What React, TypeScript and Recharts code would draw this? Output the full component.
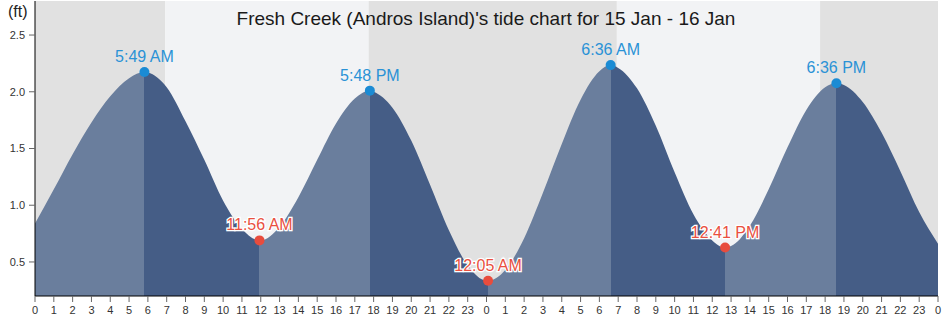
import React from 'react';
import { ComposedChart, Area, Scatter, XAxis, YAxis, ReferenceArea } from 'recharts';

const hourTimes = [
  0, 1, 2, 3, 4, 5, 6, 7, 8, 9, 10, 11, 12, 13, 14, 15, 16, 17, 18, 19, 20, 21, 22, 23,
  24, 25, 26, 27, 28, 29, 30, 31, 32, 33, 34, 35, 36, 37, 38, 39, 40, 41, 42, 43, 44, 45, 46, 47, 48,
];
const hourlyLevels = [
  0.84, 1.14, 1.45, 1.73, 1.96, 2.12, 2.17, 2.04, 1.74, 1.4, 1.04, 0.79, 0.69, 0.81, 1.07, 1.4,
  1.72, 1.94, 2.0, 1.86, 1.57, 1.18, 0.78, 0.47, 0.335, 0.43, 0.71, 1.11, 1.54, 1.93, 2.18, 2.21,
  2.03, 1.7, 1.29, 0.92, 0.69, 0.64, 0.82, 1.14, 1.51, 1.84, 2.04, 2.06, 1.91, 1.64, 1.3, 0.94, 0.66,
];

const extremeTimes = [5.817, 11.933, 17.8, 24.083, 30.6, 36.683, 42.6];
const extremeLevels = [2.175, 0.69, 2.01, 0.335, 2.235, 0.627, 2.075];
const extremeLabels = ['5:49 AM', '11:56 AM', '5:48 PM', '12:05 AM', '6:36 AM', '12:41 PM', '6:36 PM'];
const extremeKinds = ['high', 'low', 'high', 'low', 'high', 'low', 'high'];

const dayStarts = [6.92, 30.93];
const dayEnds = [17.72, 41.73];

const xTicks = hourTimes;
const yTicks = [0.5, 1.0, 1.5, 2.0, 2.5];
const xDomain = [0, 48];
const yDomain = [0.2, 2.8];

const titleText = "Fresh Creek (Andros Island)'s tide chart for 15 Jan - 16 Jan";
const unitText = '(ft)';

const RISING = '#6a7e9d';
const FALLING = '#455d86';
const NIGHT = '#e1e1e1';
const DAY = '#f2f3f5';
const HIGH_DOT = '#1b8bd4';
const HIGH_TEXT = '#2a92d6';
const LOW_DOT = '#e84c3d';
const LOW_TEXT = '#e9503f';
const FONT = '"Liberation Sans", Arial, Helvetica, sans-serif';

const tideRows = [
  ...hourTimes.map((t, i) => ({ time: t, level: hourlyLevels[i] })),
  ...extremeTimes.map((t, i) => ({ time: t, level: extremeLevels[i] })),
].sort((a, b) => a.time - b.time);

const extremeRows = extremeTimes.map((t, i) => ({
  time: t,
  level: extremeLevels[i],
  label: extremeLabels[i],
  kind: extremeKinds[i],
}));

const dayRanges = dayStarts.map((s, i) => [s, dayEnds[i]]);
const nightRanges = [
  [xDomain[0], dayStarts[0]],
  [dayEnds[0], dayStarts[1]],
  [dayEnds[1], xDomain[1]],
];

// gradient stops: rising (light) before a high, falling (dark) before a low
const span = xDomain[1] - xDomain[0];
const gradientStops: { offset: number; color: string }[] = [];
{
  let prev = 0;
  extremeTimes.forEach((t, i) => {
    const color = extremeKinds[i] === 'high' ? RISING : FALLING;
    gradientStops.push({ offset: prev, color });
    gradientStops.push({ offset: (t - xDomain[0]) / span, color });
    prev = (t - xDomain[0]) / span;
  });
  const lastColor = extremeKinds[extremeKinds.length - 1] === 'high' ? FALLING : RISING;
  gradientStops.push({ offset: prev, color: lastColor });
  gradientStops.push({ offset: 1, color: lastColor });
}

const renderExtreme = (props: any) => {
  const { cx, cy, payload } = props;
  if (cx == null || cy == null) return null;
  const isHigh = payload.kind === 'high';
  return (
    <g>
      <circle cx={cx} cy={cy} r={5} fill={isHigh ? HIGH_DOT : LOW_DOT} />
      <text
        x={cx}
        y={cy - 10}
        textAnchor="middle"
        fontSize={16}
        fontFamily={FONT}
        fill={isHigh ? HIGH_TEXT : LOW_TEXT}
        stroke={isHigh ? 'none' : '#ffffff'}
        strokeWidth={isHigh ? 0 : 2.5}
        paintOrder="stroke"
      >
        {payload.label}
      </text>
    </g>
  );
};

export default function App() {
  return (
    <div style={{ position: 'absolute', left: 0, top: 0, width: 942, height: 318, fontFamily: FONT }}>
      <ComposedChart
        width={942}
        height={318}
        data={tideRows}
        margin={{ top: 1, right: 4, bottom: 0, left: 0 }}
      >
        <defs>
          <linearGradient id="tideFill" x1="0" y1="0" x2="1" y2="0">
            {gradientStops.map((s, i) => (
              <stop key={i} offset={s.offset} stopColor={s.color} stopOpacity={1} />
            ))}
          </linearGradient>
        </defs>
        {nightRanges.map((r, i) => (
          <ReferenceArea
            key={'n' + i}
            x1={r[0]}
            x2={r[1]}
            y1={yDomain[0]}
            y2={yDomain[1]}
            fill={NIGHT}
            fillOpacity={1}
            stroke="none"
            ifOverflow="hidden"
          />
        ))}
        {dayRanges.map((r, i) => (
          <ReferenceArea
            key={'d' + i}
            x1={r[0]}
            x2={r[1]}
            y1={yDomain[0]}
            y2={yDomain[1]}
            fill={DAY}
            fillOpacity={1}
            stroke="none"
            ifOverflow="hidden"
          />
        ))}
        <XAxis
          dataKey="time"
          type="number"
          domain={xDomain}
          ticks={xTicks}
          interval={0}
          allowDataOverflow
          tickFormatter={(v: number) => String(v % 24)}
          height={22}
          tickSize={6}
          tickMargin={4}
          axisLine={{ stroke: '#000', strokeWidth: 1 }}
          tickLine={{ stroke: '#666' }}
          tick={{ fontSize: 11, fill: '#333', fontFamily: FONT }}
        />
        <XAxis
          xAxisId="top"
          orientation="top"
          type="number"
          domain={xDomain}
          height={0}
          tick={false}
          tickLine={false}
          axisLine={{ stroke: '#000', strokeWidth: 1 }}
        />
        <YAxis
          type="number"
          domain={yDomain}
          ticks={yTicks}
          allowDataOverflow
          width={35}
          tickSize={6}
          tickMargin={4}
          tickFormatter={(v: number) => v.toFixed(1)}
          axisLine={{ stroke: '#000', strokeWidth: 1 }}
          tickLine={{ stroke: '#666' }}
          tick={{ fontSize: 11, fill: '#333', fontFamily: FONT }}
        />
        <YAxis
          yAxisId="right"
          orientation="right"
          type="number"
          domain={yDomain}
          width={0}
          tick={false}
          tickLine={false}
          axisLine={{ stroke: '#000', strokeWidth: 1 }}
        />
        <Area
          dataKey="level"
          type="monotone"
          stroke="none"
          fill="url(#tideFill)"
          fillOpacity={1}
          isAnimationActive={false}
          dot={false}
          activeDot={false}
        />
        <Scatter
          data={extremeRows}
          dataKey="level"
          shape={renderExtreme}
          isAnimationActive={false}
        />
      </ComposedChart>
      <svg
        width={942}
        height={318}
        style={{ position: 'absolute', left: 0, top: 0, pointerEvents: 'none' }}
      >
        <text x={486} y={25} textAnchor="middle" fontSize={19} fontFamily={FONT} fill="#1a1a1a">
          {titleText}
        </text>
        <text x={8} y={17} fontSize={16} fontFamily={FONT} fill="#222">
          {unitText}
        </text>
      </svg>
    </div>
  );
}
